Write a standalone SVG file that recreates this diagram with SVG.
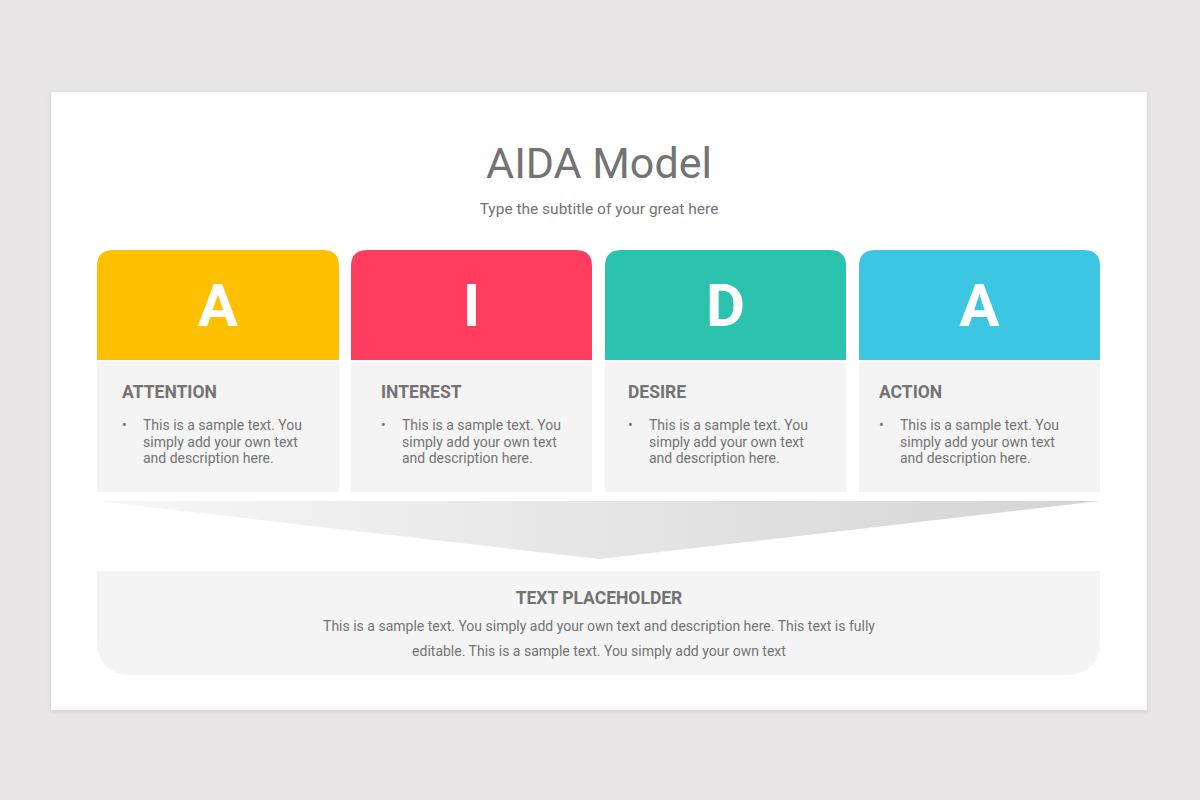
<svg xmlns="http://www.w3.org/2000/svg" width="1200" height="800" viewBox="0 0 1200 800">
<defs>
<linearGradient id="funnel" x1="0" y1="0" x2="1" y2="0">
<stop offset="0" stop-color="#f7f7f7"/>
<stop offset="1" stop-color="#d4d4d4"/>
</linearGradient>
<filter id="sh" x="-5%" y="-5%" width="110%" height="110%">
<feDropShadow dx="0" dy="1" stdDeviation="2" flood-color="#000" flood-opacity="0.12"/>
</filter>
</defs>
<style>
text{font-family:Roboto,"Liberation Sans",sans-serif;fill:#737373}
.title{font-size:43px}
.sub{font-size:15.5px}
.big{font-size:60px;font-weight:bold;fill:#fff;text-anchor:middle}
.head{font-size:17.5px;font-weight:bold}
.body{font-size:14px}
.cardbody{fill:#f4f4f4}
.mid{text-anchor:middle}
</style>
<rect width="1200" height="800" fill="#e8e6e7"/>
<rect x="51" y="92" width="1096" height="618" fill="#fff" filter="url(#sh)"/>
<text class="title mid" x="599" y="178">AIDA Model</text>
<text class="sub mid" x="599" y="214">Type the subtitle of your great here</text>

<g id="node-attention">
<path d="M97 360 V266 Q97 250 113 250 H323 Q339 250 339 266 V360 Z" fill="#fec000"/>
<rect class="cardbody" x="97" y="362" width="242" height="130"/>
<text class="big" x="218" y="326">A</text>
<text class="head" x="122" y="398">ATTENTION</text>
<text class="body" x="122" y="430">•</text>
<text class="body" x="143" y="430">This is a sample text. You</text>
<text class="body" x="143" y="446.5">simply add your own text</text>
<text class="body" x="143" y="463">and description here.</text>
</g>
<g id="node-interest">
<path d="M351 360 V266 Q351 250 367 250 H576 Q592 250 592 266 V360 Z" fill="#ff3d5f"/>
<rect class="cardbody" x="351" y="362" width="241" height="130"/>
<text class="big" x="471.5" y="326">I</text>
<text class="head" x="381" y="398">INTEREST</text>
<text class="body" x="381" y="430">•</text>
<text class="body" x="402" y="430">This is a sample text. You</text>
<text class="body" x="402" y="446.5">simply add your own text</text>
<text class="body" x="402" y="463">and description here.</text>
</g>
<g id="node-desire">
<path d="M605 360 V266 Q605 250 621 250 H830 Q846 250 846 266 V360 Z" fill="#2cc3ae"/>
<rect class="cardbody" x="605" y="362" width="241" height="130"/>
<text class="big" x="725.5" y="326">D</text>
<text class="head" x="628" y="398">DESIRE</text>
<text class="body" x="628" y="430">•</text>
<text class="body" x="649" y="430">This is a sample text. You</text>
<text class="body" x="649" y="446.5">simply add your own text</text>
<text class="body" x="649" y="463">and description here.</text>
</g>
<g id="node-action">
<path d="M859 360 V266 Q859 250 875 250 H1084 Q1100 250 1100 266 V360 Z" fill="#3cc6e2"/>
<rect class="cardbody" x="859" y="362" width="241" height="130"/>
<text class="big" x="979.5" y="326">A</text>
<text class="head" x="879" y="398">ACTION</text>
<text class="body" x="879" y="430">•</text>
<text class="body" x="900" y="430">This is a sample text. You</text>
<text class="body" x="900" y="446.5">simply add your own text</text>
<text class="body" x="900" y="463">and description here.</text>
</g>

<g id="connectors">
<path d="M97 501 H1100 L599 559 Z" fill="url(#funnel)"/>
</g>

<g id="node-placeholder">
<path d="M97 571 H1100 V640 Q1100 675 1065 675 H132 Q97 675 97 640 Z" fill="#f4f4f4"/>
<text class="head mid" x="599" y="604">TEXT PLACEHOLDER</text>
<text class="body mid" x="599" y="631">This is a sample text. You simply add your own text and description here. This text is fully</text>
<text class="body mid" x="599" y="656">editable. This is a sample text. You simply add your own text</text>
</g>
</svg>
